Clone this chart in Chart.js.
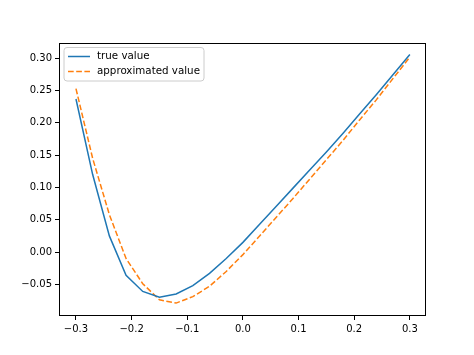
<!DOCTYPE html>
<html><head><meta charset="utf-8">
<script src="https://cdn.jsdelivr.net/npm/chart.js@4/dist/chart.umd.min.js"></script>
<style>html,body{margin:0;padding:0;background:#fff;}canvas{display:block;}</style>
</head><body>
<canvas id="c" width="474" height="355"></canvas>
<script>
const xValues = [-0.30,-0.27,-0.24,-0.21,-0.18,-0.15,-0.12,-0.09,-0.06,-0.03,0.00,0.03,0.06,0.09,0.12,0.15,0.18,0.21,0.24,0.27,0.30];
const trueValues = [0.237,0.120,0.025,-0.036,-0.061,-0.070,-0.065,-0.052,-0.033,-0.010,0.015,0.043,0.071,0.099,0.127,0.155,0.184,0.214,0.244,0.275,0.306];
const approxValues = [0.253,0.145,0.058,-0.010,-0.049,-0.074,-0.079,-0.069,-0.053,-0.030,-0.004,0.025,0.054,0.083,0.113,0.143,0.173,0.205,0.236,0.269,0.302];
const xTicks = [-0.3,-0.2,-0.1,0.0,0.1,0.2,0.3];
const yTicks = [-0.05,0.00,0.05,0.10,0.15,0.20,0.25,0.30];
const seriesLabels = ['true value','approximated value'];

const FONT = {family:'"DejaVu Sans", sans-serif', size:10};
function fmt(v, d){ if (Math.abs(v) < 1e-9) v = 0; const s = v.toFixed(d); return s.replace('-', '\u2212'); }

const frame = {
  id:'frame',
  afterDatasetsDraw(chart){
    const a = chart.chartArea, ctx = chart.ctx;
    ctx.save();
    ctx.strokeStyle = '#000'; ctx.lineWidth = 1;
    ctx.strokeRect(Math.round(a.left)+0.5, Math.round(a.top)+0.5, Math.round(a.right-a.left)-1, Math.round(a.bottom-a.top)-1);
    ctx.restore();
  }
};

const legendBox = {
  id:'legendBox',
  afterDraw(chart){
    const a = chart.chartArea, ctx = chart.ctx;
    const x0 = a.left + 5, y0 = a.top + 4.5, w = 140, h = 33.5, r = 3;
    ctx.save();
    ctx.beginPath();
    ctx.moveTo(x0+r, y0); ctx.lineTo(x0+w-r, y0); ctx.arcTo(x0+w, y0, x0+w, y0+r, r);
    ctx.lineTo(x0+w, y0+h-r); ctx.arcTo(x0+w, y0+h, x0+w-r, y0+h, r);
    ctx.lineTo(x0+r, y0+h); ctx.arcTo(x0, y0+h, x0, y0+h-r, r);
    ctx.lineTo(x0, y0+r); ctx.arcTo(x0, y0, x0+r, y0, r); ctx.closePath();
    ctx.fillStyle = 'rgba(255,255,255,0.8)'; ctx.fill();
    ctx.strokeStyle = '#cccccc'; ctx.lineWidth = 1; ctx.stroke();
    chart.data.datasets.forEach((ds, i) => {
      const yy = y0 + 9 + i * 15;
      ctx.beginPath();
      ctx.setLineDash(ds.borderDash || []);
      ctx.strokeStyle = ds.borderColor; ctx.lineWidth = ds.borderWidth;
      ctx.moveTo(x0 + 4, yy); ctx.lineTo(x0 + 26, yy); ctx.stroke();
      ctx.setLineDash([]);
      ctx.fillStyle = '#000'; ctx.font = '10.3px "DejaVu Sans", sans-serif';
      ctx.textBaseline = 'middle'; ctx.textAlign = 'left';
      ctx.fillText(ds.label, x0 + 33, yy);
    });
    ctx.restore();
  }
};

new Chart(document.getElementById('c'), {
  type:'line',
  data:{
    datasets:[
      {label:seriesLabels[0], data:xValues.map((x,i)=>({x:x, y:trueValues[i]})), borderColor:'#1f77b4', borderWidth:1.5, pointRadius:0, tension:0, fill:false},
      {label:seriesLabels[1], data:xValues.map((x,i)=>({x:x, y:approxValues[i]})), borderColor:'#ff7f0e', borderWidth:1.5, borderDash:[5.7,2.5], pointRadius:0, tension:0, fill:false}
    ]
  },
  options:{
    responsive:false, animation:false, devicePixelRatio:1,
    layout:{padding:{left:0, top:43, right:48, bottom:0}},
    plugins:{legend:{display:false}, tooltip:{enabled:false}},
    scales:{
      x:{type:'linear', min:-0.3305, max:0.329,
         afterBuildTicks(s){ s.ticks = xTicks.map(v=>({value:v})); },
         afterFit(s){ s.height = 39; },
         grid:{drawOnChartArea:false, drawTicks:true, tickLength:4, color:'#000', tickColor:'#000'},
         border:{display:false},
         ticks:{padding:3, color:'#000', font:FONT, maxRotation:0, autoSkip:false, callback:(v)=>fmt(v,1)}},
      y:{type:'linear', min:-0.099, max:0.3237,
         afterBuildTicks(s){ s.ticks = yTicks.map(v=>({value:v})); },
         afterFit(s){ s.width = 59; },
         grid:{drawOnChartArea:false, drawTicks:true, tickLength:4, color:'#000', tickColor:'#000'},
         border:{display:false},
         ticks:{padding:3, color:'#000', font:FONT, autoSkip:false, callback:(v)=>fmt(v,2)}}
    }
  },
  plugins:[frame, legendBox]
});
</script>
</body></html>
